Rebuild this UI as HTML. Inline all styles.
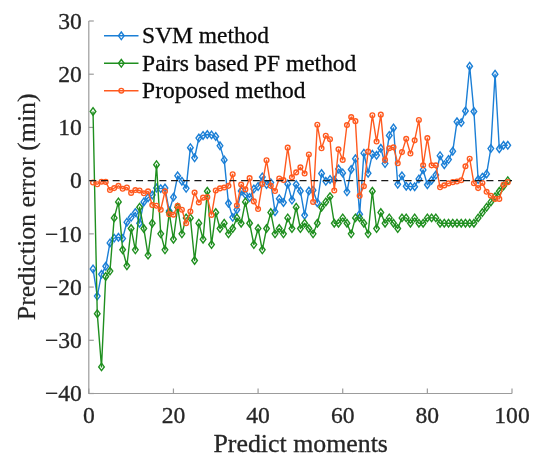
<!DOCTYPE html>
<html lang="en">
<head>
<meta charset="utf-8">
<title>Prediction error chart</title>
<style>
html,body{margin:0;padding:0;background:#fff;}
body{width:550px;height:465px;overflow:hidden;font-family:"Liberation Serif",serif;}
svg{display:block;}
</style>
</head>
<body>
<svg width="550" height="465" viewBox="0 0 550 465">
<rect width="550" height="465" fill="#ffffff"/>
<g stroke="#9c9c9c" stroke-width="1.2" fill="none">
<path d="M88.80 21.00V393.50H512.00"/>
<path d="M88.80 393.50h5"/>
<path d="M88.80 340.29h5"/>
<path d="M88.80 287.07h5"/>
<path d="M88.80 233.86h5"/>
<path d="M88.80 180.64h5"/>
<path d="M88.80 127.43h5"/>
<path d="M88.80 74.21h5"/>
<path d="M88.80 21.00h5"/>
<path d="M88.80 393.50v-5"/>
<path d="M173.44 393.50v-5"/>
<path d="M258.08 393.50v-5"/>
<path d="M342.72 393.50v-5"/>
<path d="M427.36 393.50v-5"/>
<path d="M512.00 393.50v-5"/>
</g>
<g>
<polyline points="93.03,268.98 97.26,296.12 101.50,274.30 105.73,266.32 109.96,242.90 114.19,238.11 118.42,237.32 122.66,238.38 126.89,222.15 131.12,217.36 135.35,212.57 139.58,223.21 143.82,201.93 148.05,197.67 152.28,195.01 156.51,188.09 160.74,188.62 164.98,188.09 169.21,210.98 173.44,197.14 177.67,175.85 181.90,181.18 186.14,188.36 190.37,147.65 194.60,157.76 198.83,138.07 203.06,135.41 207.30,134.51 211.53,134.88 215.76,136.47 219.99,145.84 224.22,159.89 228.46,203.26 232.69,217.36 236.92,209.75 241.15,191.02 245.38,194.64 249.62,197.46 253.85,189.05 258.08,186.50 262.31,176.92 266.54,184.53 270.78,182.61 275.01,211.67 279.24,198.74 283.47,202.46 287.70,183.94 291.94,200.07 296.17,184.53 300.40,191.02 304.63,215.23 308.86,191.02 313.10,190.22 317.33,202.73 321.56,173.57 325.79,181.28 330.02,179.42 334.26,180.11 338.49,169.04 342.72,172.93 346.95,191.82 351.18,169.47 355.42,158.82 359.65,214.17 363.88,153.13 368.11,173.25 372.34,154.30 376.58,155.26 380.81,148.29 385.04,163.61 389.27,135.41 393.50,127.96 397.74,184.26 401.97,175.85 406.20,186.18 410.43,186.50 414.66,186.66 418.90,178.89 423.13,169.89 427.36,184.74 431.59,180.22 435.82,175.06 440.06,155.69 444.29,164.73 448.52,159.57 452.75,151.16 456.98,121.84 461.22,122.64 465.45,110.93 469.68,66.23 473.91,111.46 478.14,179.58 482.38,177.13 486.61,173.94 490.84,148.55 495.07,74.21 499.30,148.71 503.54,145.26 507.77,145.26" fill="none" stroke="#1b7fd6" stroke-width="1.4" stroke-linejoin="round"/>
<path d="M93.03 265.18L95.83 268.98L93.03 272.78L90.23 268.98Z" fill="none" stroke="#1b7fd6" stroke-width="1.4"/>
<path d="M97.26 292.32L100.06 296.12L97.26 299.92L94.46 296.12Z" fill="none" stroke="#1b7fd6" stroke-width="1.4"/>
<path d="M101.50 270.50L104.30 274.30L101.50 278.10L98.70 274.30Z" fill="none" stroke="#1b7fd6" stroke-width="1.4"/>
<path d="M105.73 262.52L108.53 266.32L105.73 270.12L102.93 266.32Z" fill="none" stroke="#1b7fd6" stroke-width="1.4"/>
<path d="M109.96 239.10L112.76 242.90L109.96 246.70L107.16 242.90Z" fill="none" stroke="#1b7fd6" stroke-width="1.4"/>
<path d="M114.19 234.31L116.99 238.11L114.19 241.91L111.39 238.11Z" fill="none" stroke="#1b7fd6" stroke-width="1.4"/>
<path d="M118.42 233.52L121.22 237.32L118.42 241.12L115.62 237.32Z" fill="none" stroke="#1b7fd6" stroke-width="1.4"/>
<path d="M122.66 234.58L125.46 238.38L122.66 242.18L119.86 238.38Z" fill="none" stroke="#1b7fd6" stroke-width="1.4"/>
<path d="M126.89 218.35L129.69 222.15L126.89 225.95L124.09 222.15Z" fill="none" stroke="#1b7fd6" stroke-width="1.4"/>
<path d="M131.12 213.56L133.92 217.36L131.12 221.16L128.32 217.36Z" fill="none" stroke="#1b7fd6" stroke-width="1.4"/>
<path d="M135.35 208.77L138.15 212.57L135.35 216.37L132.55 212.57Z" fill="none" stroke="#1b7fd6" stroke-width="1.4"/>
<path d="M139.58 219.41L142.38 223.21L139.58 227.01L136.78 223.21Z" fill="none" stroke="#1b7fd6" stroke-width="1.4"/>
<path d="M143.82 198.13L146.62 201.93L143.82 205.73L141.02 201.93Z" fill="none" stroke="#1b7fd6" stroke-width="1.4"/>
<path d="M148.05 193.87L150.85 197.67L148.05 201.47L145.25 197.67Z" fill="none" stroke="#1b7fd6" stroke-width="1.4"/>
<path d="M152.28 191.21L155.08 195.01L152.28 198.81L149.48 195.01Z" fill="none" stroke="#1b7fd6" stroke-width="1.4"/>
<path d="M156.51 184.29L159.31 188.09L156.51 191.89L153.71 188.09Z" fill="none" stroke="#1b7fd6" stroke-width="1.4"/>
<path d="M160.74 184.82L163.54 188.62L160.74 192.43L157.94 188.62Z" fill="none" stroke="#1b7fd6" stroke-width="1.4"/>
<path d="M164.98 184.29L167.78 188.09L164.98 191.89L162.18 188.09Z" fill="none" stroke="#1b7fd6" stroke-width="1.4"/>
<path d="M169.21 207.18L172.01 210.98L169.21 214.78L166.41 210.98Z" fill="none" stroke="#1b7fd6" stroke-width="1.4"/>
<path d="M173.44 193.34L176.24 197.14L173.44 200.94L170.64 197.14Z" fill="none" stroke="#1b7fd6" stroke-width="1.4"/>
<path d="M177.67 172.05L180.47 175.85L177.67 179.65L174.87 175.85Z" fill="none" stroke="#1b7fd6" stroke-width="1.4"/>
<path d="M181.90 177.38L184.70 181.18L181.90 184.98L179.10 181.18Z" fill="none" stroke="#1b7fd6" stroke-width="1.4"/>
<path d="M186.14 184.56L188.94 188.36L186.14 192.16L183.34 188.36Z" fill="none" stroke="#1b7fd6" stroke-width="1.4"/>
<path d="M190.37 143.85L193.17 147.65L190.37 151.45L187.57 147.65Z" fill="none" stroke="#1b7fd6" stroke-width="1.4"/>
<path d="M194.60 153.96L197.40 157.76L194.60 161.56L191.80 157.76Z" fill="none" stroke="#1b7fd6" stroke-width="1.4"/>
<path d="M198.83 134.27L201.63 138.07L198.83 141.87L196.03 138.07Z" fill="none" stroke="#1b7fd6" stroke-width="1.4"/>
<path d="M203.06 131.61L205.86 135.41L203.06 139.21L200.26 135.41Z" fill="none" stroke="#1b7fd6" stroke-width="1.4"/>
<path d="M207.30 130.71L210.10 134.51L207.30 138.31L204.50 134.51Z" fill="none" stroke="#1b7fd6" stroke-width="1.4"/>
<path d="M211.53 131.08L214.33 134.88L211.53 138.68L208.73 134.88Z" fill="none" stroke="#1b7fd6" stroke-width="1.4"/>
<path d="M215.76 132.67L218.56 136.47L215.76 140.28L212.96 136.47Z" fill="none" stroke="#1b7fd6" stroke-width="1.4"/>
<path d="M219.99 142.04L222.79 145.84L219.99 149.64L217.19 145.84Z" fill="none" stroke="#1b7fd6" stroke-width="1.4"/>
<path d="M224.22 156.09L227.02 159.89L224.22 163.69L221.42 159.89Z" fill="none" stroke="#1b7fd6" stroke-width="1.4"/>
<path d="M228.46 199.46L231.26 203.26L228.46 207.06L225.66 203.26Z" fill="none" stroke="#1b7fd6" stroke-width="1.4"/>
<path d="M232.69 213.56L235.49 217.36L232.69 221.16L229.89 217.36Z" fill="none" stroke="#1b7fd6" stroke-width="1.4"/>
<path d="M236.92 205.95L239.72 209.75L236.92 213.55L234.12 209.75Z" fill="none" stroke="#1b7fd6" stroke-width="1.4"/>
<path d="M241.15 187.22L243.95 191.02L241.15 194.82L238.35 191.02Z" fill="none" stroke="#1b7fd6" stroke-width="1.4"/>
<path d="M245.38 190.84L248.18 194.64L245.38 198.44L242.58 194.64Z" fill="none" stroke="#1b7fd6" stroke-width="1.4"/>
<path d="M249.62 193.66L252.42 197.46L249.62 201.26L246.82 197.46Z" fill="none" stroke="#1b7fd6" stroke-width="1.4"/>
<path d="M253.85 185.25L256.65 189.05L253.85 192.85L251.05 189.05Z" fill="none" stroke="#1b7fd6" stroke-width="1.4"/>
<path d="M258.08 182.70L260.88 186.50L258.08 190.30L255.28 186.50Z" fill="none" stroke="#1b7fd6" stroke-width="1.4"/>
<path d="M262.31 173.12L265.11 176.92L262.31 180.72L259.51 176.92Z" fill="none" stroke="#1b7fd6" stroke-width="1.4"/>
<path d="M266.54 180.73L269.34 184.53L266.54 188.33L263.74 184.53Z" fill="none" stroke="#1b7fd6" stroke-width="1.4"/>
<path d="M270.78 178.81L273.58 182.61L270.78 186.41L267.98 182.61Z" fill="none" stroke="#1b7fd6" stroke-width="1.4"/>
<path d="M275.01 207.87L277.81 211.67L275.01 215.47L272.21 211.67Z" fill="none" stroke="#1b7fd6" stroke-width="1.4"/>
<path d="M279.24 194.94L282.04 198.74L279.24 202.54L276.44 198.74Z" fill="none" stroke="#1b7fd6" stroke-width="1.4"/>
<path d="M283.47 198.66L286.27 202.46L283.47 206.26L280.67 202.46Z" fill="none" stroke="#1b7fd6" stroke-width="1.4"/>
<path d="M287.70 180.14L290.50 183.94L287.70 187.74L284.90 183.94Z" fill="none" stroke="#1b7fd6" stroke-width="1.4"/>
<path d="M291.94 196.27L294.74 200.07L291.94 203.87L289.14 200.07Z" fill="none" stroke="#1b7fd6" stroke-width="1.4"/>
<path d="M296.17 180.73L298.97 184.53L296.17 188.33L293.37 184.53Z" fill="none" stroke="#1b7fd6" stroke-width="1.4"/>
<path d="M300.40 187.22L303.20 191.02L300.40 194.82L297.60 191.02Z" fill="none" stroke="#1b7fd6" stroke-width="1.4"/>
<path d="M304.63 211.43L307.43 215.23L304.63 219.03L301.83 215.23Z" fill="none" stroke="#1b7fd6" stroke-width="1.4"/>
<path d="M308.86 187.22L311.66 191.02L308.86 194.82L306.06 191.02Z" fill="none" stroke="#1b7fd6" stroke-width="1.4"/>
<path d="M313.10 186.42L315.90 190.22L313.10 194.02L310.30 190.22Z" fill="none" stroke="#1b7fd6" stroke-width="1.4"/>
<path d="M317.33 198.93L320.13 202.73L317.33 206.53L314.53 202.73Z" fill="none" stroke="#1b7fd6" stroke-width="1.4"/>
<path d="M321.56 169.77L324.36 173.57L321.56 177.37L318.76 173.57Z" fill="none" stroke="#1b7fd6" stroke-width="1.4"/>
<path d="M325.79 177.48L328.59 181.28L325.79 185.08L322.99 181.28Z" fill="none" stroke="#1b7fd6" stroke-width="1.4"/>
<path d="M330.02 175.62L332.82 179.42L330.02 183.22L327.22 179.42Z" fill="none" stroke="#1b7fd6" stroke-width="1.4"/>
<path d="M334.26 176.31L337.06 180.11L334.26 183.91L331.46 180.11Z" fill="none" stroke="#1b7fd6" stroke-width="1.4"/>
<path d="M338.49 165.24L341.29 169.04L338.49 172.84L335.69 169.04Z" fill="none" stroke="#1b7fd6" stroke-width="1.4"/>
<path d="M342.72 169.13L345.52 172.93L342.72 176.73L339.92 172.93Z" fill="none" stroke="#1b7fd6" stroke-width="1.4"/>
<path d="M346.95 188.02L349.75 191.82L346.95 195.62L344.15 191.82Z" fill="none" stroke="#1b7fd6" stroke-width="1.4"/>
<path d="M351.18 165.67L353.98 169.47L351.18 173.27L348.38 169.47Z" fill="none" stroke="#1b7fd6" stroke-width="1.4"/>
<path d="M355.42 155.02L358.22 158.82L355.42 162.62L352.62 158.82Z" fill="none" stroke="#1b7fd6" stroke-width="1.4"/>
<path d="M359.65 210.37L362.45 214.17L359.65 217.97L356.85 214.17Z" fill="none" stroke="#1b7fd6" stroke-width="1.4"/>
<path d="M363.88 149.33L366.68 153.13L363.88 156.93L361.08 153.13Z" fill="none" stroke="#1b7fd6" stroke-width="1.4"/>
<path d="M368.11 169.45L370.91 173.25L368.11 177.05L365.31 173.25Z" fill="none" stroke="#1b7fd6" stroke-width="1.4"/>
<path d="M372.34 150.50L375.14 154.30L372.34 158.10L369.54 154.30Z" fill="none" stroke="#1b7fd6" stroke-width="1.4"/>
<path d="M376.58 151.46L379.38 155.26L376.58 159.06L373.78 155.26Z" fill="none" stroke="#1b7fd6" stroke-width="1.4"/>
<path d="M380.81 144.49L383.61 148.29L380.81 152.09L378.01 148.29Z" fill="none" stroke="#1b7fd6" stroke-width="1.4"/>
<path d="M385.04 159.81L387.84 163.61L385.04 167.41L382.24 163.61Z" fill="none" stroke="#1b7fd6" stroke-width="1.4"/>
<path d="M389.27 131.61L392.07 135.41L389.27 139.21L386.47 135.41Z" fill="none" stroke="#1b7fd6" stroke-width="1.4"/>
<path d="M393.50 124.16L396.30 127.96L393.50 131.76L390.70 127.96Z" fill="none" stroke="#1b7fd6" stroke-width="1.4"/>
<path d="M397.74 180.46L400.54 184.26L397.74 188.06L394.94 184.26Z" fill="none" stroke="#1b7fd6" stroke-width="1.4"/>
<path d="M401.97 172.05L404.77 175.85L401.97 179.65L399.17 175.85Z" fill="none" stroke="#1b7fd6" stroke-width="1.4"/>
<path d="M406.20 182.38L409.00 186.18L406.20 189.98L403.40 186.18Z" fill="none" stroke="#1b7fd6" stroke-width="1.4"/>
<path d="M410.43 182.70L413.23 186.50L410.43 190.30L407.63 186.50Z" fill="none" stroke="#1b7fd6" stroke-width="1.4"/>
<path d="M414.66 182.86L417.46 186.66L414.66 190.46L411.86 186.66Z" fill="none" stroke="#1b7fd6" stroke-width="1.4"/>
<path d="M418.90 175.09L421.70 178.89L418.90 182.69L416.10 178.89Z" fill="none" stroke="#1b7fd6" stroke-width="1.4"/>
<path d="M423.13 166.09L425.93 169.89L423.13 173.69L420.33 169.89Z" fill="none" stroke="#1b7fd6" stroke-width="1.4"/>
<path d="M427.36 180.94L430.16 184.74L427.36 188.54L424.56 184.74Z" fill="none" stroke="#1b7fd6" stroke-width="1.4"/>
<path d="M431.59 176.42L434.39 180.22L431.59 184.02L428.79 180.22Z" fill="none" stroke="#1b7fd6" stroke-width="1.4"/>
<path d="M435.82 171.26L438.62 175.06L435.82 178.86L433.02 175.06Z" fill="none" stroke="#1b7fd6" stroke-width="1.4"/>
<path d="M440.06 151.89L442.86 155.69L440.06 159.49L437.26 155.69Z" fill="none" stroke="#1b7fd6" stroke-width="1.4"/>
<path d="M444.29 160.93L447.09 164.73L444.29 168.53L441.49 164.73Z" fill="none" stroke="#1b7fd6" stroke-width="1.4"/>
<path d="M448.52 155.77L451.32 159.57L448.52 163.37L445.72 159.57Z" fill="none" stroke="#1b7fd6" stroke-width="1.4"/>
<path d="M452.75 147.36L455.55 151.16L452.75 154.96L449.95 151.16Z" fill="none" stroke="#1b7fd6" stroke-width="1.4"/>
<path d="M456.98 118.04L459.78 121.84L456.98 125.64L454.18 121.84Z" fill="none" stroke="#1b7fd6" stroke-width="1.4"/>
<path d="M461.22 118.84L464.02 122.64L461.22 126.44L458.42 122.64Z" fill="none" stroke="#1b7fd6" stroke-width="1.4"/>
<path d="M465.45 107.13L468.25 110.93L465.45 114.73L462.65 110.93Z" fill="none" stroke="#1b7fd6" stroke-width="1.4"/>
<path d="M469.68 62.43L472.48 66.23L469.68 70.03L466.88 66.23Z" fill="none" stroke="#1b7fd6" stroke-width="1.4"/>
<path d="M473.91 107.66L476.71 111.46L473.91 115.26L471.11 111.46Z" fill="none" stroke="#1b7fd6" stroke-width="1.4"/>
<path d="M478.14 175.78L480.94 179.58L478.14 183.38L475.34 179.58Z" fill="none" stroke="#1b7fd6" stroke-width="1.4"/>
<path d="M482.38 173.33L485.18 177.13L482.38 180.93L479.58 177.13Z" fill="none" stroke="#1b7fd6" stroke-width="1.4"/>
<path d="M486.61 170.14L489.41 173.94L486.61 177.74L483.81 173.94Z" fill="none" stroke="#1b7fd6" stroke-width="1.4"/>
<path d="M490.84 144.75L493.64 148.55L490.84 152.35L488.04 148.55Z" fill="none" stroke="#1b7fd6" stroke-width="1.4"/>
<path d="M495.07 70.41L497.87 74.21L495.07 78.01L492.27 74.21Z" fill="none" stroke="#1b7fd6" stroke-width="1.4"/>
<path d="M499.30 144.91L502.10 148.71L499.30 152.51L496.50 148.71Z" fill="none" stroke="#1b7fd6" stroke-width="1.4"/>
<path d="M503.54 141.46L506.34 145.26L503.54 149.06L500.74 145.26Z" fill="none" stroke="#1b7fd6" stroke-width="1.4"/>
<path d="M507.77 141.46L510.57 145.26L507.77 149.06L504.97 145.26Z" fill="none" stroke="#1b7fd6" stroke-width="1.4"/>
</g>
<g>
<polyline points="93.03,111.46 97.26,313.68 101.50,366.89 105.73,276.43 109.96,271.11 114.19,217.89 118.42,201.93 122.66,249.82 126.89,265.79 131.12,228.54 135.35,249.82 139.58,207.25 143.82,228.54 148.05,255.14 152.28,223.21 156.51,164.68 160.74,233.86 164.98,249.82 169.21,212.57 173.44,239.18 177.67,207.25 181.90,233.86 186.14,217.89 190.37,217.89 194.60,260.46 198.83,223.21 203.06,239.18 207.30,191.29 211.53,244.50 215.76,212.57 219.99,228.54 224.22,223.21 228.46,233.86 232.69,228.54 236.92,217.89 241.15,223.21 245.38,201.93 249.62,223.21 253.85,244.50 258.08,228.54 262.31,249.82 266.54,228.54 270.78,212.57 275.01,233.86 279.24,228.54 283.47,233.86 287.70,217.89 291.94,228.54 296.17,207.25 300.40,228.54 304.63,223.21 308.86,228.54 313.10,233.86 317.33,223.21 321.56,207.25 325.79,201.93 330.02,196.61 334.26,223.21 338.49,223.21 342.72,217.89 346.95,223.21 351.18,233.86 355.42,217.89 359.65,217.89 363.88,223.21 368.11,233.86 372.34,191.29 376.58,228.54 380.81,212.57 385.04,223.21 389.27,217.89 393.50,223.21 397.74,228.54 401.97,217.89 406.20,217.89 410.43,223.21 414.66,217.89 418.90,223.21 423.13,223.21 427.36,217.89 431.59,217.89 435.82,217.89 440.06,223.21 444.29,223.21 448.52,223.21 452.75,223.21 456.98,223.21 461.22,223.21 465.45,223.21 469.68,223.21 473.91,223.21 478.14,217.89 482.38,212.57 486.61,207.25 490.84,201.93 495.07,196.61 499.30,191.29 503.54,185.96 507.77,180.64" fill="none" stroke="#1f8f1f" stroke-width="1.4" stroke-linejoin="round"/>
<path d="M93.03 107.66L95.83 111.46L93.03 115.26L90.23 111.46Z" fill="none" stroke="#1f8f1f" stroke-width="1.4"/>
<path d="M97.26 309.88L100.06 313.68L97.26 317.48L94.46 313.68Z" fill="none" stroke="#1f8f1f" stroke-width="1.4"/>
<path d="M101.50 363.09L104.30 366.89L101.50 370.69L98.70 366.89Z" fill="none" stroke="#1f8f1f" stroke-width="1.4"/>
<path d="M105.73 272.63L108.53 276.43L105.73 280.23L102.93 276.43Z" fill="none" stroke="#1f8f1f" stroke-width="1.4"/>
<path d="M109.96 267.31L112.76 271.11L109.96 274.91L107.16 271.11Z" fill="none" stroke="#1f8f1f" stroke-width="1.4"/>
<path d="M114.19 214.09L116.99 217.89L114.19 221.69L111.39 217.89Z" fill="none" stroke="#1f8f1f" stroke-width="1.4"/>
<path d="M118.42 198.13L121.22 201.93L118.42 205.73L115.62 201.93Z" fill="none" stroke="#1f8f1f" stroke-width="1.4"/>
<path d="M122.66 246.02L125.46 249.82L122.66 253.62L119.86 249.82Z" fill="none" stroke="#1f8f1f" stroke-width="1.4"/>
<path d="M126.89 261.99L129.69 265.79L126.89 269.59L124.09 265.79Z" fill="none" stroke="#1f8f1f" stroke-width="1.4"/>
<path d="M131.12 224.74L133.92 228.54L131.12 232.34L128.32 228.54Z" fill="none" stroke="#1f8f1f" stroke-width="1.4"/>
<path d="M135.35 246.02L138.15 249.82L135.35 253.62L132.55 249.82Z" fill="none" stroke="#1f8f1f" stroke-width="1.4"/>
<path d="M139.58 203.45L142.38 207.25L139.58 211.05L136.78 207.25Z" fill="none" stroke="#1f8f1f" stroke-width="1.4"/>
<path d="M143.82 224.74L146.62 228.54L143.82 232.34L141.02 228.54Z" fill="none" stroke="#1f8f1f" stroke-width="1.4"/>
<path d="M148.05 251.34L150.85 255.14L148.05 258.94L145.25 255.14Z" fill="none" stroke="#1f8f1f" stroke-width="1.4"/>
<path d="M152.28 219.41L155.08 223.21L152.28 227.01L149.48 223.21Z" fill="none" stroke="#1f8f1f" stroke-width="1.4"/>
<path d="M156.51 160.88L159.31 164.68L156.51 168.48L153.71 164.68Z" fill="none" stroke="#1f8f1f" stroke-width="1.4"/>
<path d="M160.74 230.06L163.54 233.86L160.74 237.66L157.94 233.86Z" fill="none" stroke="#1f8f1f" stroke-width="1.4"/>
<path d="M164.98 246.02L167.78 249.82L164.98 253.62L162.18 249.82Z" fill="none" stroke="#1f8f1f" stroke-width="1.4"/>
<path d="M169.21 208.77L172.01 212.57L169.21 216.37L166.41 212.57Z" fill="none" stroke="#1f8f1f" stroke-width="1.4"/>
<path d="M173.44 235.38L176.24 239.18L173.44 242.98L170.64 239.18Z" fill="none" stroke="#1f8f1f" stroke-width="1.4"/>
<path d="M177.67 203.45L180.47 207.25L177.67 211.05L174.87 207.25Z" fill="none" stroke="#1f8f1f" stroke-width="1.4"/>
<path d="M181.90 230.06L184.70 233.86L181.90 237.66L179.10 233.86Z" fill="none" stroke="#1f8f1f" stroke-width="1.4"/>
<path d="M186.14 214.09L188.94 217.89L186.14 221.69L183.34 217.89Z" fill="none" stroke="#1f8f1f" stroke-width="1.4"/>
<path d="M190.37 214.09L193.17 217.89L190.37 221.69L187.57 217.89Z" fill="none" stroke="#1f8f1f" stroke-width="1.4"/>
<path d="M194.60 256.66L197.40 260.46L194.60 264.26L191.80 260.46Z" fill="none" stroke="#1f8f1f" stroke-width="1.4"/>
<path d="M198.83 219.41L201.63 223.21L198.83 227.01L196.03 223.21Z" fill="none" stroke="#1f8f1f" stroke-width="1.4"/>
<path d="M203.06 235.38L205.86 239.18L203.06 242.98L200.26 239.18Z" fill="none" stroke="#1f8f1f" stroke-width="1.4"/>
<path d="M207.30 187.49L210.10 191.29L207.30 195.09L204.50 191.29Z" fill="none" stroke="#1f8f1f" stroke-width="1.4"/>
<path d="M211.53 240.70L214.33 244.50L211.53 248.30L208.73 244.50Z" fill="none" stroke="#1f8f1f" stroke-width="1.4"/>
<path d="M215.76 208.77L218.56 212.57L215.76 216.37L212.96 212.57Z" fill="none" stroke="#1f8f1f" stroke-width="1.4"/>
<path d="M219.99 224.74L222.79 228.54L219.99 232.34L217.19 228.54Z" fill="none" stroke="#1f8f1f" stroke-width="1.4"/>
<path d="M224.22 219.41L227.02 223.21L224.22 227.01L221.42 223.21Z" fill="none" stroke="#1f8f1f" stroke-width="1.4"/>
<path d="M228.46 230.06L231.26 233.86L228.46 237.66L225.66 233.86Z" fill="none" stroke="#1f8f1f" stroke-width="1.4"/>
<path d="M232.69 224.74L235.49 228.54L232.69 232.34L229.89 228.54Z" fill="none" stroke="#1f8f1f" stroke-width="1.4"/>
<path d="M236.92 214.09L239.72 217.89L236.92 221.69L234.12 217.89Z" fill="none" stroke="#1f8f1f" stroke-width="1.4"/>
<path d="M241.15 219.41L243.95 223.21L241.15 227.01L238.35 223.21Z" fill="none" stroke="#1f8f1f" stroke-width="1.4"/>
<path d="M245.38 198.13L248.18 201.93L245.38 205.73L242.58 201.93Z" fill="none" stroke="#1f8f1f" stroke-width="1.4"/>
<path d="M249.62 219.41L252.42 223.21L249.62 227.01L246.82 223.21Z" fill="none" stroke="#1f8f1f" stroke-width="1.4"/>
<path d="M253.85 240.70L256.65 244.50L253.85 248.30L251.05 244.50Z" fill="none" stroke="#1f8f1f" stroke-width="1.4"/>
<path d="M258.08 224.74L260.88 228.54L258.08 232.34L255.28 228.54Z" fill="none" stroke="#1f8f1f" stroke-width="1.4"/>
<path d="M262.31 246.02L265.11 249.82L262.31 253.62L259.51 249.82Z" fill="none" stroke="#1f8f1f" stroke-width="1.4"/>
<path d="M266.54 224.74L269.34 228.54L266.54 232.34L263.74 228.54Z" fill="none" stroke="#1f8f1f" stroke-width="1.4"/>
<path d="M270.78 208.77L273.58 212.57L270.78 216.37L267.98 212.57Z" fill="none" stroke="#1f8f1f" stroke-width="1.4"/>
<path d="M275.01 230.06L277.81 233.86L275.01 237.66L272.21 233.86Z" fill="none" stroke="#1f8f1f" stroke-width="1.4"/>
<path d="M279.24 224.74L282.04 228.54L279.24 232.34L276.44 228.54Z" fill="none" stroke="#1f8f1f" stroke-width="1.4"/>
<path d="M283.47 230.06L286.27 233.86L283.47 237.66L280.67 233.86Z" fill="none" stroke="#1f8f1f" stroke-width="1.4"/>
<path d="M287.70 214.09L290.50 217.89L287.70 221.69L284.90 217.89Z" fill="none" stroke="#1f8f1f" stroke-width="1.4"/>
<path d="M291.94 224.74L294.74 228.54L291.94 232.34L289.14 228.54Z" fill="none" stroke="#1f8f1f" stroke-width="1.4"/>
<path d="M296.17 203.45L298.97 207.25L296.17 211.05L293.37 207.25Z" fill="none" stroke="#1f8f1f" stroke-width="1.4"/>
<path d="M300.40 224.74L303.20 228.54L300.40 232.34L297.60 228.54Z" fill="none" stroke="#1f8f1f" stroke-width="1.4"/>
<path d="M304.63 219.41L307.43 223.21L304.63 227.01L301.83 223.21Z" fill="none" stroke="#1f8f1f" stroke-width="1.4"/>
<path d="M308.86 224.74L311.66 228.54L308.86 232.34L306.06 228.54Z" fill="none" stroke="#1f8f1f" stroke-width="1.4"/>
<path d="M313.10 230.06L315.90 233.86L313.10 237.66L310.30 233.86Z" fill="none" stroke="#1f8f1f" stroke-width="1.4"/>
<path d="M317.33 219.41L320.13 223.21L317.33 227.01L314.53 223.21Z" fill="none" stroke="#1f8f1f" stroke-width="1.4"/>
<path d="M321.56 203.45L324.36 207.25L321.56 211.05L318.76 207.25Z" fill="none" stroke="#1f8f1f" stroke-width="1.4"/>
<path d="M325.79 198.13L328.59 201.93L325.79 205.73L322.99 201.93Z" fill="none" stroke="#1f8f1f" stroke-width="1.4"/>
<path d="M330.02 192.81L332.82 196.61L330.02 200.41L327.22 196.61Z" fill="none" stroke="#1f8f1f" stroke-width="1.4"/>
<path d="M334.26 219.41L337.06 223.21L334.26 227.01L331.46 223.21Z" fill="none" stroke="#1f8f1f" stroke-width="1.4"/>
<path d="M338.49 219.41L341.29 223.21L338.49 227.01L335.69 223.21Z" fill="none" stroke="#1f8f1f" stroke-width="1.4"/>
<path d="M342.72 214.09L345.52 217.89L342.72 221.69L339.92 217.89Z" fill="none" stroke="#1f8f1f" stroke-width="1.4"/>
<path d="M346.95 219.41L349.75 223.21L346.95 227.01L344.15 223.21Z" fill="none" stroke="#1f8f1f" stroke-width="1.4"/>
<path d="M351.18 230.06L353.98 233.86L351.18 237.66L348.38 233.86Z" fill="none" stroke="#1f8f1f" stroke-width="1.4"/>
<path d="M355.42 214.09L358.22 217.89L355.42 221.69L352.62 217.89Z" fill="none" stroke="#1f8f1f" stroke-width="1.4"/>
<path d="M359.65 214.09L362.45 217.89L359.65 221.69L356.85 217.89Z" fill="none" stroke="#1f8f1f" stroke-width="1.4"/>
<path d="M363.88 219.41L366.68 223.21L363.88 227.01L361.08 223.21Z" fill="none" stroke="#1f8f1f" stroke-width="1.4"/>
<path d="M368.11 230.06L370.91 233.86L368.11 237.66L365.31 233.86Z" fill="none" stroke="#1f8f1f" stroke-width="1.4"/>
<path d="M372.34 187.49L375.14 191.29L372.34 195.09L369.54 191.29Z" fill="none" stroke="#1f8f1f" stroke-width="1.4"/>
<path d="M376.58 224.74L379.38 228.54L376.58 232.34L373.78 228.54Z" fill="none" stroke="#1f8f1f" stroke-width="1.4"/>
<path d="M380.81 208.77L383.61 212.57L380.81 216.37L378.01 212.57Z" fill="none" stroke="#1f8f1f" stroke-width="1.4"/>
<path d="M385.04 219.41L387.84 223.21L385.04 227.01L382.24 223.21Z" fill="none" stroke="#1f8f1f" stroke-width="1.4"/>
<path d="M389.27 214.09L392.07 217.89L389.27 221.69L386.47 217.89Z" fill="none" stroke="#1f8f1f" stroke-width="1.4"/>
<path d="M393.50 219.41L396.30 223.21L393.50 227.01L390.70 223.21Z" fill="none" stroke="#1f8f1f" stroke-width="1.4"/>
<path d="M397.74 224.74L400.54 228.54L397.74 232.34L394.94 228.54Z" fill="none" stroke="#1f8f1f" stroke-width="1.4"/>
<path d="M401.97 214.09L404.77 217.89L401.97 221.69L399.17 217.89Z" fill="none" stroke="#1f8f1f" stroke-width="1.4"/>
<path d="M406.20 214.09L409.00 217.89L406.20 221.69L403.40 217.89Z" fill="none" stroke="#1f8f1f" stroke-width="1.4"/>
<path d="M410.43 219.41L413.23 223.21L410.43 227.01L407.63 223.21Z" fill="none" stroke="#1f8f1f" stroke-width="1.4"/>
<path d="M414.66 214.09L417.46 217.89L414.66 221.69L411.86 217.89Z" fill="none" stroke="#1f8f1f" stroke-width="1.4"/>
<path d="M418.90 219.41L421.70 223.21L418.90 227.01L416.10 223.21Z" fill="none" stroke="#1f8f1f" stroke-width="1.4"/>
<path d="M423.13 219.41L425.93 223.21L423.13 227.01L420.33 223.21Z" fill="none" stroke="#1f8f1f" stroke-width="1.4"/>
<path d="M427.36 214.09L430.16 217.89L427.36 221.69L424.56 217.89Z" fill="none" stroke="#1f8f1f" stroke-width="1.4"/>
<path d="M431.59 214.09L434.39 217.89L431.59 221.69L428.79 217.89Z" fill="none" stroke="#1f8f1f" stroke-width="1.4"/>
<path d="M435.82 214.09L438.62 217.89L435.82 221.69L433.02 217.89Z" fill="none" stroke="#1f8f1f" stroke-width="1.4"/>
<path d="M440.06 219.41L442.86 223.21L440.06 227.01L437.26 223.21Z" fill="none" stroke="#1f8f1f" stroke-width="1.4"/>
<path d="M444.29 219.41L447.09 223.21L444.29 227.01L441.49 223.21Z" fill="none" stroke="#1f8f1f" stroke-width="1.4"/>
<path d="M448.52 219.41L451.32 223.21L448.52 227.01L445.72 223.21Z" fill="none" stroke="#1f8f1f" stroke-width="1.4"/>
<path d="M452.75 219.41L455.55 223.21L452.75 227.01L449.95 223.21Z" fill="none" stroke="#1f8f1f" stroke-width="1.4"/>
<path d="M456.98 219.41L459.78 223.21L456.98 227.01L454.18 223.21Z" fill="none" stroke="#1f8f1f" stroke-width="1.4"/>
<path d="M461.22 219.41L464.02 223.21L461.22 227.01L458.42 223.21Z" fill="none" stroke="#1f8f1f" stroke-width="1.4"/>
<path d="M465.45 219.41L468.25 223.21L465.45 227.01L462.65 223.21Z" fill="none" stroke="#1f8f1f" stroke-width="1.4"/>
<path d="M469.68 219.41L472.48 223.21L469.68 227.01L466.88 223.21Z" fill="none" stroke="#1f8f1f" stroke-width="1.4"/>
<path d="M473.91 219.41L476.71 223.21L473.91 227.01L471.11 223.21Z" fill="none" stroke="#1f8f1f" stroke-width="1.4"/>
<path d="M478.14 214.09L480.94 217.89L478.14 221.69L475.34 217.89Z" fill="none" stroke="#1f8f1f" stroke-width="1.4"/>
<path d="M482.38 208.77L485.18 212.57L482.38 216.37L479.58 212.57Z" fill="none" stroke="#1f8f1f" stroke-width="1.4"/>
<path d="M486.61 203.45L489.41 207.25L486.61 211.05L483.81 207.25Z" fill="none" stroke="#1f8f1f" stroke-width="1.4"/>
<path d="M490.84 198.13L493.64 201.93L490.84 205.73L488.04 201.93Z" fill="none" stroke="#1f8f1f" stroke-width="1.4"/>
<path d="M495.07 192.81L497.87 196.61L495.07 200.41L492.27 196.61Z" fill="none" stroke="#1f8f1f" stroke-width="1.4"/>
<path d="M499.30 187.49L502.10 191.29L499.30 195.09L496.50 191.29Z" fill="none" stroke="#1f8f1f" stroke-width="1.4"/>
<path d="M503.54 182.16L506.34 185.96L503.54 189.76L500.74 185.96Z" fill="none" stroke="#1f8f1f" stroke-width="1.4"/>
<path d="M507.77 176.84L510.57 180.64L507.77 184.44L504.97 180.64Z" fill="none" stroke="#1f8f1f" stroke-width="1.4"/>
</g>
<g>
<polyline points="93.03,182.56 97.26,184.26 101.50,181.71 105.73,181.92 109.96,190.06 114.19,188.09 118.42,185.80 122.66,188.78 126.89,187.51 131.12,192.88 135.35,190.06 139.58,190.43 143.82,193.31 148.05,191.29 152.28,205.12 156.51,205.76 160.74,209.75 164.98,191.29 169.21,214.17 173.44,214.70 177.67,205.87 181.90,209.75 186.14,223.21 190.37,211.51 194.60,192.62 198.83,202.46 203.06,197.67 207.30,197.14 211.53,214.91 215.76,190.49 219.99,188.41 224.22,187.56 228.46,185.86 232.69,174.26 236.92,205.44 241.15,184.53 245.38,189.42 249.62,178.14 253.85,201.40 258.08,209.06 262.31,183.94 266.54,160.26 270.78,185.86 275.01,191.02 279.24,178.51 283.47,180.11 287.70,147.65 291.94,177.18 296.17,172.39 300.40,167.34 304.63,173.57 308.86,154.46 313.10,201.93 317.33,124.77 321.56,148.24 325.79,135.73 330.02,139.24 334.26,190.49 338.49,149.30 342.72,159.89 346.95,125.03 351.18,117.05 355.42,121.15 359.65,195.86 363.88,186.18 368.11,151.64 372.34,115.19 376.58,141.53 380.81,114.66 385.04,159.89 389.27,148.29 393.50,147.33 397.74,163.19 401.97,152.12 406.20,138.82 410.43,153.50 414.66,140.36 418.90,119.98 423.13,165.37 427.36,138.07 431.59,165.37 435.82,165.37 440.06,187.29 444.29,185.38 448.52,183.41 452.75,182.13 456.98,181.49 461.22,180.22 465.45,166.28 469.68,158.72 473.91,183.30 478.14,188.09 482.38,182.98 486.61,191.82 490.84,195.70 495.07,198.90 499.30,198.90 503.54,184.74 507.77,182.13" fill="none" stroke="#ff5a1f" stroke-width="1.4" stroke-linejoin="round"/>
<circle cx="93.03" cy="182.56" r="2.35" fill="none" stroke="#ff5a1f" stroke-width="1.4"/>
<circle cx="97.26" cy="184.26" r="2.35" fill="none" stroke="#ff5a1f" stroke-width="1.4"/>
<circle cx="101.50" cy="181.71" r="2.35" fill="none" stroke="#ff5a1f" stroke-width="1.4"/>
<circle cx="105.73" cy="181.92" r="2.35" fill="none" stroke="#ff5a1f" stroke-width="1.4"/>
<circle cx="109.96" cy="190.06" r="2.35" fill="none" stroke="#ff5a1f" stroke-width="1.4"/>
<circle cx="114.19" cy="188.09" r="2.35" fill="none" stroke="#ff5a1f" stroke-width="1.4"/>
<circle cx="118.42" cy="185.80" r="2.35" fill="none" stroke="#ff5a1f" stroke-width="1.4"/>
<circle cx="122.66" cy="188.78" r="2.35" fill="none" stroke="#ff5a1f" stroke-width="1.4"/>
<circle cx="126.89" cy="187.51" r="2.35" fill="none" stroke="#ff5a1f" stroke-width="1.4"/>
<circle cx="131.12" cy="192.88" r="2.35" fill="none" stroke="#ff5a1f" stroke-width="1.4"/>
<circle cx="135.35" cy="190.06" r="2.35" fill="none" stroke="#ff5a1f" stroke-width="1.4"/>
<circle cx="139.58" cy="190.43" r="2.35" fill="none" stroke="#ff5a1f" stroke-width="1.4"/>
<circle cx="143.82" cy="193.31" r="2.35" fill="none" stroke="#ff5a1f" stroke-width="1.4"/>
<circle cx="148.05" cy="191.29" r="2.35" fill="none" stroke="#ff5a1f" stroke-width="1.4"/>
<circle cx="152.28" cy="205.12" r="2.35" fill="none" stroke="#ff5a1f" stroke-width="1.4"/>
<circle cx="156.51" cy="205.76" r="2.35" fill="none" stroke="#ff5a1f" stroke-width="1.4"/>
<circle cx="160.74" cy="209.75" r="2.35" fill="none" stroke="#ff5a1f" stroke-width="1.4"/>
<circle cx="164.98" cy="191.29" r="2.35" fill="none" stroke="#ff5a1f" stroke-width="1.4"/>
<circle cx="169.21" cy="214.17" r="2.35" fill="none" stroke="#ff5a1f" stroke-width="1.4"/>
<circle cx="173.44" cy="214.70" r="2.35" fill="none" stroke="#ff5a1f" stroke-width="1.4"/>
<circle cx="177.67" cy="205.87" r="2.35" fill="none" stroke="#ff5a1f" stroke-width="1.4"/>
<circle cx="181.90" cy="209.75" r="2.35" fill="none" stroke="#ff5a1f" stroke-width="1.4"/>
<circle cx="186.14" cy="223.21" r="2.35" fill="none" stroke="#ff5a1f" stroke-width="1.4"/>
<circle cx="190.37" cy="211.51" r="2.35" fill="none" stroke="#ff5a1f" stroke-width="1.4"/>
<circle cx="194.60" cy="192.62" r="2.35" fill="none" stroke="#ff5a1f" stroke-width="1.4"/>
<circle cx="198.83" cy="202.46" r="2.35" fill="none" stroke="#ff5a1f" stroke-width="1.4"/>
<circle cx="203.06" cy="197.67" r="2.35" fill="none" stroke="#ff5a1f" stroke-width="1.4"/>
<circle cx="207.30" cy="197.14" r="2.35" fill="none" stroke="#ff5a1f" stroke-width="1.4"/>
<circle cx="211.53" cy="214.91" r="2.35" fill="none" stroke="#ff5a1f" stroke-width="1.4"/>
<circle cx="215.76" cy="190.49" r="2.35" fill="none" stroke="#ff5a1f" stroke-width="1.4"/>
<circle cx="219.99" cy="188.41" r="2.35" fill="none" stroke="#ff5a1f" stroke-width="1.4"/>
<circle cx="224.22" cy="187.56" r="2.35" fill="none" stroke="#ff5a1f" stroke-width="1.4"/>
<circle cx="228.46" cy="185.86" r="2.35" fill="none" stroke="#ff5a1f" stroke-width="1.4"/>
<circle cx="232.69" cy="174.26" r="2.35" fill="none" stroke="#ff5a1f" stroke-width="1.4"/>
<circle cx="236.92" cy="205.44" r="2.35" fill="none" stroke="#ff5a1f" stroke-width="1.4"/>
<circle cx="241.15" cy="184.53" r="2.35" fill="none" stroke="#ff5a1f" stroke-width="1.4"/>
<circle cx="245.38" cy="189.42" r="2.35" fill="none" stroke="#ff5a1f" stroke-width="1.4"/>
<circle cx="249.62" cy="178.14" r="2.35" fill="none" stroke="#ff5a1f" stroke-width="1.4"/>
<circle cx="253.85" cy="201.40" r="2.35" fill="none" stroke="#ff5a1f" stroke-width="1.4"/>
<circle cx="258.08" cy="209.06" r="2.35" fill="none" stroke="#ff5a1f" stroke-width="1.4"/>
<circle cx="262.31" cy="183.94" r="2.35" fill="none" stroke="#ff5a1f" stroke-width="1.4"/>
<circle cx="266.54" cy="160.26" r="2.35" fill="none" stroke="#ff5a1f" stroke-width="1.4"/>
<circle cx="270.78" cy="185.86" r="2.35" fill="none" stroke="#ff5a1f" stroke-width="1.4"/>
<circle cx="275.01" cy="191.02" r="2.35" fill="none" stroke="#ff5a1f" stroke-width="1.4"/>
<circle cx="279.24" cy="178.51" r="2.35" fill="none" stroke="#ff5a1f" stroke-width="1.4"/>
<circle cx="283.47" cy="180.11" r="2.35" fill="none" stroke="#ff5a1f" stroke-width="1.4"/>
<circle cx="287.70" cy="147.65" r="2.35" fill="none" stroke="#ff5a1f" stroke-width="1.4"/>
<circle cx="291.94" cy="177.18" r="2.35" fill="none" stroke="#ff5a1f" stroke-width="1.4"/>
<circle cx="296.17" cy="172.39" r="2.35" fill="none" stroke="#ff5a1f" stroke-width="1.4"/>
<circle cx="300.40" cy="167.34" r="2.35" fill="none" stroke="#ff5a1f" stroke-width="1.4"/>
<circle cx="304.63" cy="173.57" r="2.35" fill="none" stroke="#ff5a1f" stroke-width="1.4"/>
<circle cx="308.86" cy="154.46" r="2.35" fill="none" stroke="#ff5a1f" stroke-width="1.4"/>
<circle cx="313.10" cy="201.93" r="2.35" fill="none" stroke="#ff5a1f" stroke-width="1.4"/>
<circle cx="317.33" cy="124.77" r="2.35" fill="none" stroke="#ff5a1f" stroke-width="1.4"/>
<circle cx="321.56" cy="148.24" r="2.35" fill="none" stroke="#ff5a1f" stroke-width="1.4"/>
<circle cx="325.79" cy="135.73" r="2.35" fill="none" stroke="#ff5a1f" stroke-width="1.4"/>
<circle cx="330.02" cy="139.24" r="2.35" fill="none" stroke="#ff5a1f" stroke-width="1.4"/>
<circle cx="334.26" cy="190.49" r="2.35" fill="none" stroke="#ff5a1f" stroke-width="1.4"/>
<circle cx="338.49" cy="149.30" r="2.35" fill="none" stroke="#ff5a1f" stroke-width="1.4"/>
<circle cx="342.72" cy="159.89" r="2.35" fill="none" stroke="#ff5a1f" stroke-width="1.4"/>
<circle cx="346.95" cy="125.03" r="2.35" fill="none" stroke="#ff5a1f" stroke-width="1.4"/>
<circle cx="351.18" cy="117.05" r="2.35" fill="none" stroke="#ff5a1f" stroke-width="1.4"/>
<circle cx="355.42" cy="121.15" r="2.35" fill="none" stroke="#ff5a1f" stroke-width="1.4"/>
<circle cx="359.65" cy="195.86" r="2.35" fill="none" stroke="#ff5a1f" stroke-width="1.4"/>
<circle cx="363.88" cy="186.18" r="2.35" fill="none" stroke="#ff5a1f" stroke-width="1.4"/>
<circle cx="368.11" cy="151.64" r="2.35" fill="none" stroke="#ff5a1f" stroke-width="1.4"/>
<circle cx="372.34" cy="115.19" r="2.35" fill="none" stroke="#ff5a1f" stroke-width="1.4"/>
<circle cx="376.58" cy="141.53" r="2.35" fill="none" stroke="#ff5a1f" stroke-width="1.4"/>
<circle cx="380.81" cy="114.66" r="2.35" fill="none" stroke="#ff5a1f" stroke-width="1.4"/>
<circle cx="385.04" cy="159.89" r="2.35" fill="none" stroke="#ff5a1f" stroke-width="1.4"/>
<circle cx="389.27" cy="148.29" r="2.35" fill="none" stroke="#ff5a1f" stroke-width="1.4"/>
<circle cx="393.50" cy="147.33" r="2.35" fill="none" stroke="#ff5a1f" stroke-width="1.4"/>
<circle cx="397.74" cy="163.19" r="2.35" fill="none" stroke="#ff5a1f" stroke-width="1.4"/>
<circle cx="401.97" cy="152.12" r="2.35" fill="none" stroke="#ff5a1f" stroke-width="1.4"/>
<circle cx="406.20" cy="138.82" r="2.35" fill="none" stroke="#ff5a1f" stroke-width="1.4"/>
<circle cx="410.43" cy="153.50" r="2.35" fill="none" stroke="#ff5a1f" stroke-width="1.4"/>
<circle cx="414.66" cy="140.36" r="2.35" fill="none" stroke="#ff5a1f" stroke-width="1.4"/>
<circle cx="418.90" cy="119.98" r="2.35" fill="none" stroke="#ff5a1f" stroke-width="1.4"/>
<circle cx="423.13" cy="165.37" r="2.35" fill="none" stroke="#ff5a1f" stroke-width="1.4"/>
<circle cx="427.36" cy="138.07" r="2.35" fill="none" stroke="#ff5a1f" stroke-width="1.4"/>
<circle cx="431.59" cy="165.37" r="2.35" fill="none" stroke="#ff5a1f" stroke-width="1.4"/>
<circle cx="435.82" cy="165.37" r="2.35" fill="none" stroke="#ff5a1f" stroke-width="1.4"/>
<circle cx="440.06" cy="187.29" r="2.35" fill="none" stroke="#ff5a1f" stroke-width="1.4"/>
<circle cx="444.29" cy="185.38" r="2.35" fill="none" stroke="#ff5a1f" stroke-width="1.4"/>
<circle cx="448.52" cy="183.41" r="2.35" fill="none" stroke="#ff5a1f" stroke-width="1.4"/>
<circle cx="452.75" cy="182.13" r="2.35" fill="none" stroke="#ff5a1f" stroke-width="1.4"/>
<circle cx="456.98" cy="181.49" r="2.35" fill="none" stroke="#ff5a1f" stroke-width="1.4"/>
<circle cx="461.22" cy="180.22" r="2.35" fill="none" stroke="#ff5a1f" stroke-width="1.4"/>
<circle cx="465.45" cy="166.28" r="2.35" fill="none" stroke="#ff5a1f" stroke-width="1.4"/>
<circle cx="469.68" cy="158.72" r="2.35" fill="none" stroke="#ff5a1f" stroke-width="1.4"/>
<circle cx="473.91" cy="183.30" r="2.35" fill="none" stroke="#ff5a1f" stroke-width="1.4"/>
<circle cx="478.14" cy="188.09" r="2.35" fill="none" stroke="#ff5a1f" stroke-width="1.4"/>
<circle cx="482.38" cy="182.98" r="2.35" fill="none" stroke="#ff5a1f" stroke-width="1.4"/>
<circle cx="486.61" cy="191.82" r="2.35" fill="none" stroke="#ff5a1f" stroke-width="1.4"/>
<circle cx="490.84" cy="195.70" r="2.35" fill="none" stroke="#ff5a1f" stroke-width="1.4"/>
<circle cx="495.07" cy="198.90" r="2.35" fill="none" stroke="#ff5a1f" stroke-width="1.4"/>
<circle cx="499.30" cy="198.90" r="2.35" fill="none" stroke="#ff5a1f" stroke-width="1.4"/>
<circle cx="503.54" cy="184.74" r="2.35" fill="none" stroke="#ff5a1f" stroke-width="1.4"/>
<circle cx="507.77" cy="182.13" r="2.35" fill="none" stroke="#ff5a1f" stroke-width="1.4"/>
</g>
<path d="M89.30 180.64H512.00" stroke="#1a1a1a" stroke-width="1.3" stroke-dasharray="7 4.68" fill="none"/>
<g font-family="'Liberation Serif', 'Times New Roman', serif" fill="#262626" stroke="#262626" stroke-width="0.3">
<text x="81.8" y="401.30" font-size="23.6" text-anchor="end">−40</text>
<text x="81.8" y="348.09" font-size="23.6" text-anchor="end">−30</text>
<text x="81.8" y="294.87" font-size="23.6" text-anchor="end">−20</text>
<text x="81.8" y="241.66" font-size="23.6" text-anchor="end">−10</text>
<text x="81.8" y="188.44" font-size="23.6" text-anchor="end">0</text>
<text x="81.8" y="135.23" font-size="23.6" text-anchor="end">10</text>
<text x="81.8" y="82.01" font-size="23.6" text-anchor="end">20</text>
<text x="81.8" y="28.80" font-size="23.6" text-anchor="end">30</text>
<text x="88.80" y="423.3" font-size="23.6" text-anchor="middle">0</text>
<text x="173.44" y="423.3" font-size="23.6" text-anchor="middle">20</text>
<text x="258.08" y="423.3" font-size="23.6" text-anchor="middle">40</text>
<text x="342.72" y="423.3" font-size="23.6" text-anchor="middle">60</text>
<text x="427.36" y="423.3" font-size="23.6" text-anchor="middle">80</text>
<text x="512.00" y="423.3" font-size="23.6" text-anchor="middle">100</text>
<text x="300.7" y="452.3" font-size="25.85" text-anchor="middle">Predict moments</text>
<text transform="translate(34.8 206.8) rotate(-90)" font-size="25.85" stroke-width="0.2" text-anchor="middle">Prediction error (min)</text>
<text x="142.1" y="43.10" font-size="23.45" fill="#0a0a0a" stroke="#0a0a0a">SVM method</text>
<text x="142.1" y="70.60" font-size="23.45" fill="#0a0a0a" stroke="#0a0a0a">Pairs based PF method</text>
<text x="142.1" y="98.00" font-size="23.45" fill="#0a0a0a" stroke="#0a0a0a">Proposed method</text>
</g>
<path d="M104 35.8H138.5" stroke="#1b7fd6" stroke-width="1.4" fill="none"/>
<path d="M121.30 32.00L124.10 35.80L121.30 39.60L118.50 35.80Z" fill="none" stroke="#1b7fd6" stroke-width="1.4"/>
<path d="M104 63.3H138.5" stroke="#1f8f1f" stroke-width="1.4" fill="none"/>
<path d="M121.30 59.50L124.10 63.30L121.30 67.10L118.50 63.30Z" fill="none" stroke="#1f8f1f" stroke-width="1.4"/>
<path d="M104 90.7H138.5" stroke="#ff5a1f" stroke-width="1.4" fill="none"/>
<circle cx="121.30" cy="90.70" r="2.35" fill="none" stroke="#ff5a1f" stroke-width="1.4"/>
</svg>
</body>
</html>
